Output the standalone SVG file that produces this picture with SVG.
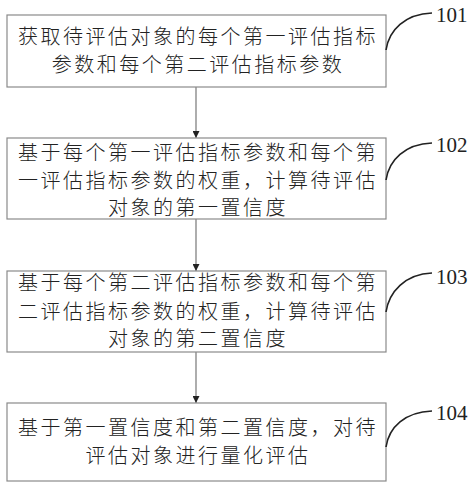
<svg xmlns="http://www.w3.org/2000/svg" width="474" height="488" viewBox="0 0 474 488">
<style>
.box{fill:#fff;stroke:#8a8a8a;stroke-width:1.2}
.t{font-family:"Noto Sans CJK SC","Noto Sans CJK JP",sans-serif;font-size:20px;font-weight:300;letter-spacing:2.5px;fill:#222;text-anchor:middle}
.lbl{font-family:"Liberation Serif",serif;font-size:21px;fill:#222}
.lead{fill:none;stroke:#222;stroke-width:1.6}
.conn{stroke:#777;stroke-width:1.2;fill:none}
</style>
<defs>
<marker id="ah" markerWidth="8" markerHeight="7" refX="7" refY="3.5" orient="auto" markerUnits="userSpaceOnUse">
<path d="M0,0 L7,3.5 L0,7 Z" fill="#222"/>
</marker>
</defs>
<rect width="474" height="488" fill="#fff"/>
<g id="connectors">
<line class="conn" x1="196" y1="87" x2="196" y2="138" marker-end="url(#ah)"/>
<line class="conn" x1="196" y1="219" x2="196" y2="271" marker-end="url(#ah)"/>
<line class="conn" x1="196" y1="352" x2="196" y2="403" marker-end="url(#ah)"/>
</g>
<g id="n101">
<rect class="box" x="7" y="15" width="379" height="72"/>
<text class="t" x="198" y="43.5">获取待评估对象的每个第一评估指标</text>
<text class="t" x="198" y="71.5">参数和每个第二评估指标参数</text>
<path class="lead" d="M386,50 C389,30 405,14 432,13"/>
<text class="lbl" x="436" y="22">101</text>
</g>
<g id="n102">
<rect class="box" x="7" y="138" width="379" height="81"/>
<text class="t" x="198" y="159.5">基于每个第一评估指标参数和每个第</text>
<text class="t" x="198" y="187.5">一评估指标参数的权重，计算待评估</text>
<text class="t" x="198" y="215">对象的第一置信度</text>
<path class="lead" d="M386,180 C389,160 405,144 432,143"/>
<text class="lbl" x="436" y="152">102</text>
</g>
<g id="n103">
<rect class="box" x="7" y="271" width="379" height="81"/>
<text class="t" x="198" y="290">基于每个第二评估指标参数和每个第</text>
<text class="t" x="198" y="318.5">二评估指标参数的权重，计算待评估</text>
<text class="t" x="198" y="345.5">对象的第二置信度</text>
<path class="lead" d="M386,312 C389,292 405,274 432,273"/>
<text class="lbl" x="436" y="284">103</text>
</g>
<g id="n104">
<rect class="box" x="7" y="403" width="379" height="78"/>
<text class="t" x="198" y="434.5">基于第一置信度和第二置信度，对待</text>
<text class="t" x="198" y="462.5">评估对象进行量化评估</text>
<path class="lead" d="M386,447 C389,427 405,412 432,411"/>
<text class="lbl" x="436" y="420">104</text>
</g>
</svg>
